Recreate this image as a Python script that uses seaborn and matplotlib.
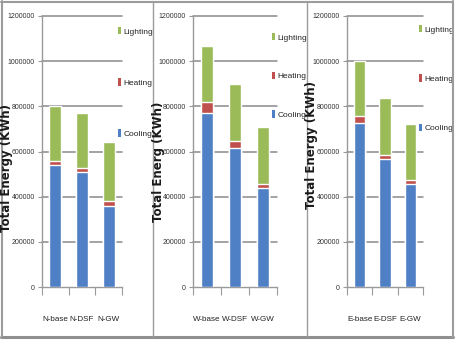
import seaborn as sns
import matplotlib.pyplot as plt
import pandas as pd
from matplotlib.lines import Line2D
from matplotlib.patches import Patch

# data (KWh)
cats_n = ["N-base", "N-DSF", "N-GW"]
cooling_n = [540000, 510000, 360000]
heating_n = [20000, 15000, 20000]
lighting_n = [240000, 245000, 260000]

cats_w = ["W-base", "W-DSF", "W-GW"]
cooling_w = [770000, 615000, 440000]
heating_w = [50000, 30000, 15000]
lighting_w = [245000, 255000, 255000]

cats_e = ["E-base", "E-DSF", "E-GW"]
cooling_e = [725000, 565000, 455000]
heating_e = [30000, 20000, 20000]
lighting_e = [245000, 250000, 245000]

yticks = [0, 200000, 400000, 600000, 800000, 1000000, 1200000]
ylabels = ["Total Energy (KWh)", "Total Energ (KWh)", "Total Energy (KWh)"]

COOL = '#4f7fc4'
HEAT = '#c0504d'
LIGHT = '#9bbb59'


def stackFrame(cats, cooling, heating, lighting):
    df = pd.DataFrame({"scenario": cats, "Cooling": cooling,
                       "Heating": heating, "Lighting": lighting})
    df["c1"] = df["Cooling"]
    df["c2"] = df["Cooling"] + df["Heating"]
    df["c3"] = df["c2"] + df["Lighting"]
    return df


sns.set_style("white")
plt.rcParams['font.family'] = ['Liberation Sans', 'DejaVu Sans']

W, H = 474, 355
fig = plt.figure(figsize=(4.74, 3.55), dpi=100)

# axes boxes in pixels: left, right
boxes = [(42, 122), (193, 277), (347, 423)]
top_px, bot_px = 16, 287
legend_pos = [(118, 27, 5.1), (272, 33, 3.6), (419, 25, 4.9)]
ylab_pos = [(7, 168), (158.5, 162), (311, 145)]

frames = [stackFrame(cats_n, cooling_n, heating_n, lighting_n),
          stackFrame(cats_w, cooling_w, heating_w, lighting_w),
          stackFrame(cats_e, cooling_e, heating_e, lighting_e)]

for k, df in enumerate(frames):
    l, r = boxes[k]
    ax = fig.add_axes([l / W, 1 - bot_px / H, (r - l) / W, (bot_px - top_px) / H])
    for col, colr in [("c3", LIGHT), ("c2", HEAT), ("c1", COOL)]:
        sns.barplot(data=df, x="scenario", y=col, color=colr, width=0.45,
                    edgecolor='white', linewidth=1.0, ax=ax, zorder=3,
                    saturation=1)
    ax.set_xlim(-0.5, 2.5)
    ax.set_ylim(0, 1200000)
    ax.set_yticks(yticks)
    ax.set_yticklabels([str(v) for v in yticks])
    for y in yticks[1:]:
        ax.axhline(y, color='#8a8a8a', lw=1.1, zorder=1, clip_on=False)
    ax.set_xlabel('')
    ax.set_ylabel('')
    for s in ['top', 'right']:
        ax.spines[s].set_visible(False)
    ax.spines['left'].set_color('#9a9a9a')
    ax.spines['bottom'].set_color('#9a9a9a')
    ax.spines['left'].set_linewidth(1.0)
    ax.spines['bottom'].set_linewidth(1.0)
    ax.set_xticks([-0.5, 0.5, 1.5, 2.5], minor=True)
    ax.tick_params(axis='x', which='minor', length=6, width=0.8, color='#9a9a9a',
                   direction='out', bottom=True)
    ax.tick_params(axis='x', which='major', length=0, pad=21, labelsize=5.8,
                   labelcolor='#222222')
    ax.tick_params(axis='y', which='major', length=3, width=0.8, color='#9a9a9a',
                   direction='out', left=True, pad=2, labelsize=5,
                   labelcolor='#333333')

    lx, ly, sp = legend_pos[k]
    handles = [Patch(facecolor=LIGHT, edgecolor='none'),
               Patch(facecolor=HEAT, edgecolor='none'),
               Patch(facecolor=COOL, edgecolor='none')]
    ax.legend(handles, ["Lighting", "Heating", "Cooling"],
              loc='upper left', bbox_to_anchor=(lx / W, 1 - ly / H),
              bbox_transform=fig.transFigure, frameon=False,
              fontsize=6, labelspacing=sp, handlelength=0.4,
              handleheight=1.0, handletextpad=0.3, borderpad=0,
              borderaxespad=0)

    xt, yt = ylab_pos[k]
    fig.text(xt / W, 1 - yt / H, ylabels[k], rotation=90, ha='center',
             va='center', fontsize=8.5, fontweight='bold', color='#1a1a1a',
             family='DejaVu Sans')

# panel frame and dividers
gray = '#9c9c9c'
fig.add_artist(Line2D([1 / W, 453 / W], [1 - 1.5 / H, 1 - 1.5 / H], color=gray, lw=1.5))
fig.add_artist(Line2D([1 / W, 453 / W], [1 - 337 / H, 1 - 337 / H], color='#8f8f8f', lw=2.2))
fig.add_artist(Line2D([1.5 / W, 1.5 / W], [1 - 1 / H, 1 - 337 / H], color=gray, lw=1.5))
fig.add_artist(Line2D([453 / W, 453 / W], [1 - 1 / H, 1 - 337 / H], color=gray, lw=1.5))
fig.add_artist(Line2D([153 / W, 153 / W], [1 - 1 / H, 1 - 337 / H], color=gray, lw=1.0))
fig.add_artist(Line2D([307 / W, 307 / W], [1 - 1 / H, 1 - 337 / H], color=gray, lw=1.0))

fig.savefig("out.png", dpi=100)
